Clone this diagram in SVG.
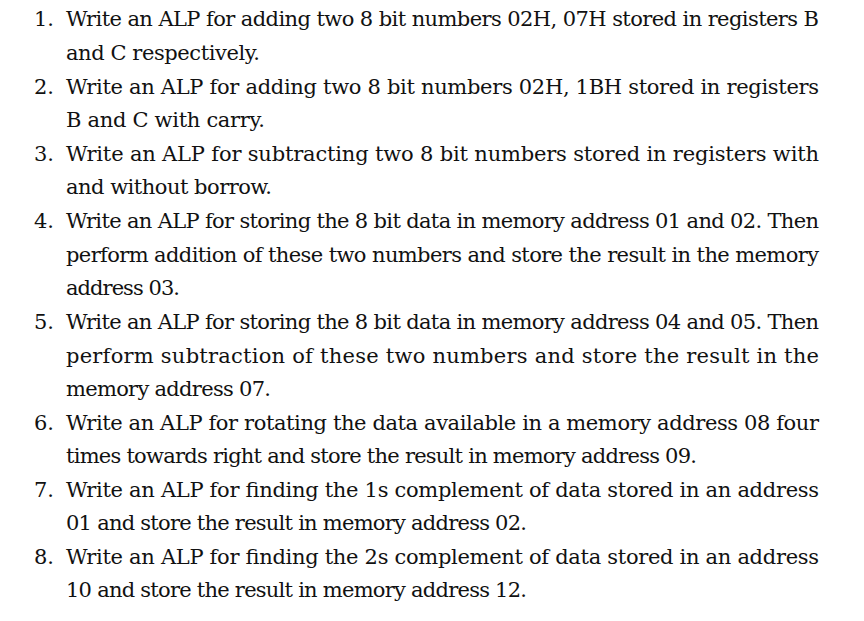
<svg xmlns="http://www.w3.org/2000/svg" width="864" height="621" viewBox="0 0 864 621">
<style>text{font-family:"DejaVu Serif","Liberation Serif",serif;font-size:21px;fill:#111}</style>
<rect width="864" height="621" fill="#fff"/>
<g id="n1"><text x="34" y="26">1.</text>
<text x="66" y="26" textLength="753" lengthAdjust="spacing">Write an ALP for adding two 8 bit numbers 02H, 07H stored in registers B</text>
<text x="66" y="60" textLength="194" lengthAdjust="spacing">and C respectively.</text></g>
<g id="n2"><text x="34" y="94">2.</text>
<text x="66" y="94" textLength="753" lengthAdjust="spacing">Write an ALP for adding two 8 bit numbers 02H, 1BH stored in registers</text>
<text x="66" y="127" textLength="199" lengthAdjust="spacing">B and C with carry.</text></g>
<g id="n3"><text x="34" y="161">3.</text>
<text x="66" y="161" textLength="753" lengthAdjust="spacing">Write an ALP for subtracting two 8 bit numbers stored in registers with</text>
<text x="66" y="194" textLength="206" lengthAdjust="spacing">and without borrow.</text></g>
<g id="n4"><text x="34" y="228">4.</text>
<text x="66" y="228" textLength="753" lengthAdjust="spacing">Write an ALP for storing the 8 bit data in memory address 01 and 02. Then</text>
<text x="66" y="262" textLength="753" lengthAdjust="spacing">perform addition of these two numbers and store the result in the memory</text>
<text x="66" y="295" textLength="114" lengthAdjust="spacing">address 03.</text></g>
<g id="n5"><text x="34" y="329">5.</text>
<text x="66" y="329" textLength="753" lengthAdjust="spacing">Write an ALP for storing the 8 bit data in memory address 04 and 05. Then</text>
<text x="66" y="363" textLength="753" lengthAdjust="spacing">perform subtraction of these two numbers and store the result in the</text>
<text x="66" y="396" textLength="205" lengthAdjust="spacing">memory address 07.</text></g>
<g id="n6"><text x="34" y="430">6.</text>
<text x="66" y="430" textLength="753" lengthAdjust="spacing">Write an ALP for rotating the data available in a memory address 08 four</text>
<text x="66" y="463" textLength="631" lengthAdjust="spacing">times towards right and store the result in memory address 09.</text></g>
<g id="n7"><text x="34" y="497">7.</text>
<text x="66" y="497" textLength="753" lengthAdjust="spacing">Write an ALP for finding the 1s complement of data stored in an address</text>
<text x="66" y="530" textLength="461" lengthAdjust="spacing">01 and store the result in memory address 02.</text></g>
<g id="n8"><text x="34" y="564">8.</text>
<text x="66" y="564" textLength="753" lengthAdjust="spacing">Write an ALP for finding the 2s complement of data stored in an address</text>
<text x="66" y="597" textLength="461" lengthAdjust="spacing">10 and store the result in memory address 12.</text></g>
<g id="connectors"/>
</svg>
